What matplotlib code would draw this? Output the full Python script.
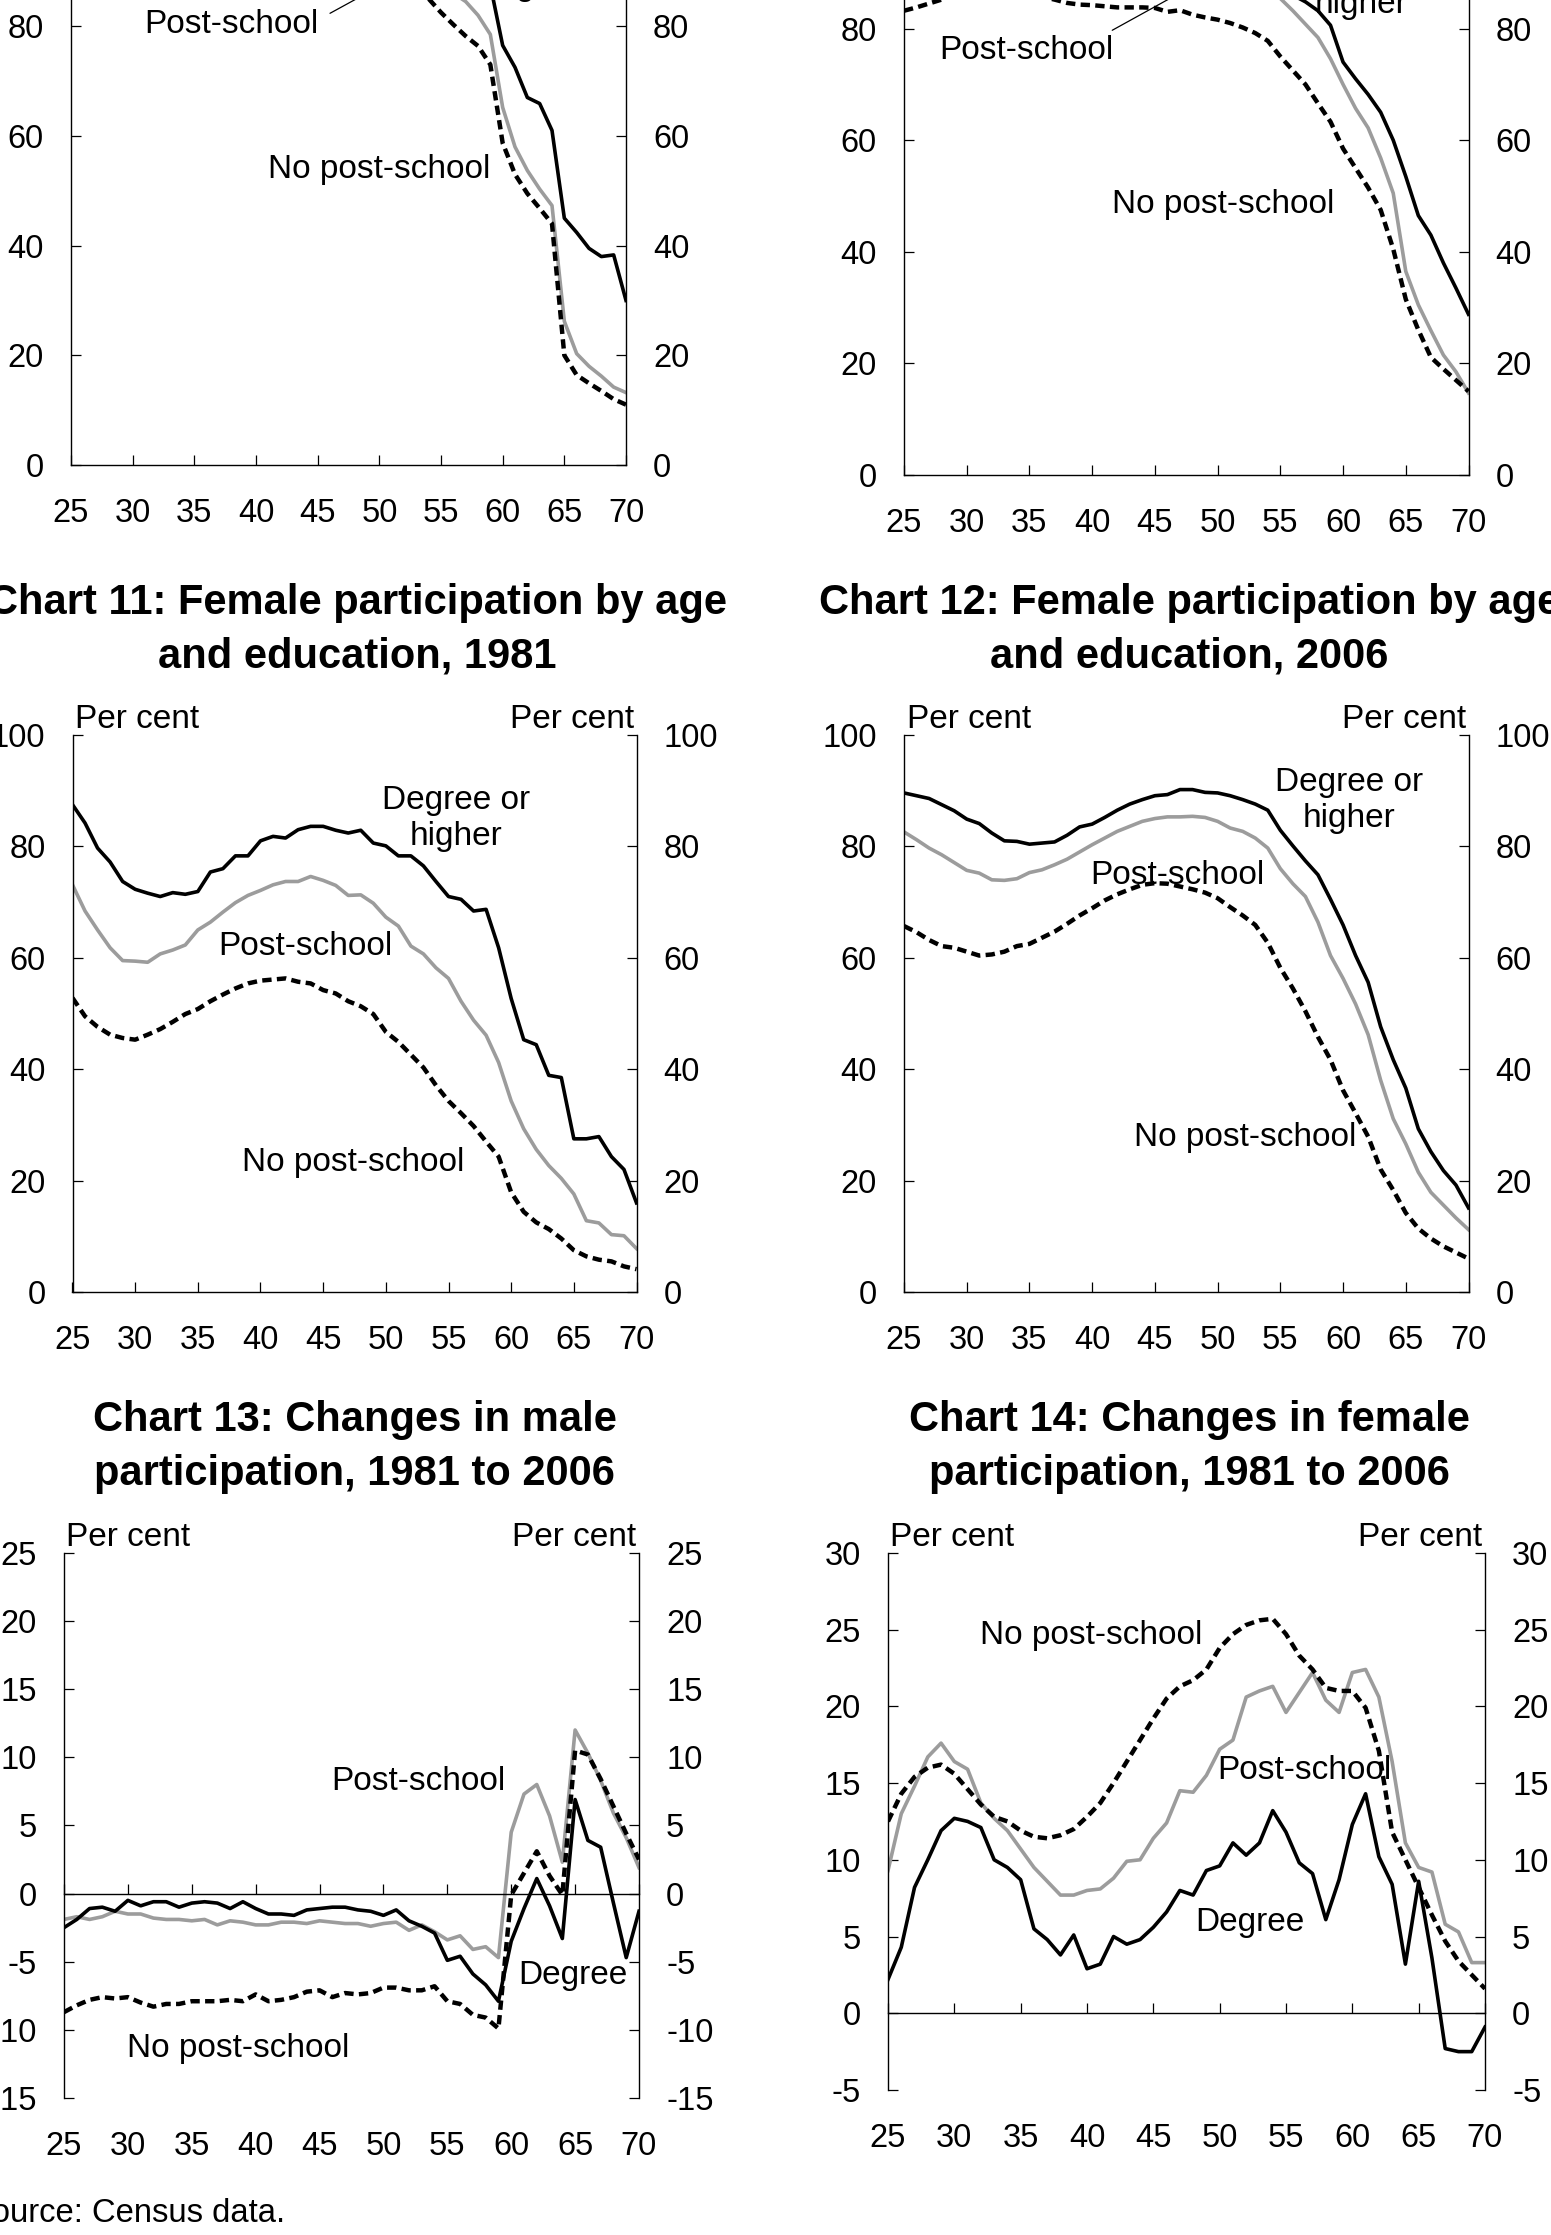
import matplotlib
matplotlib.use('Agg')
import matplotlib.pyplot as plt
from matplotlib.transforms import offset_copy

plt.rcParams['font.family'] = ['Liberation Sans', 'DejaVu Sans']
plt.rcParams['axes.unicode_minus'] = False

W, H = 1551, 2235
GREY = '#9c9c9c'

ages = list(range(25, 71))
xticks = list(range(25, 71, 5))

# Chart 9 - male 1981 (top of chart is cut off in the reference)
m81_degree = [96.0, 96.5, 97.0, 97.0, 97.0, 97.0, 97.0, 97.0, 97.0, 97.0, 97.0, 97.0,
              97.0, 96.5, 96.5, 96.5, 96.0, 96.0, 95.5, 95.5, 95.0, 94.5, 94.0, 93.5,
              93.0, 92.5, 92.0, 91.5, 91.0, 90.5, 90.0, 89.5, 89.0, 88.5,
              87.5, 76.5, 72.5, 67.0, 65.9, 61.0, 45.0, 42.4, 39.5, 38.0, 38.3, 30.0]
m81_post = [95.0, 95.5, 96.0, 96.0, 96.0, 96.0, 96.0, 96.0, 95.5, 95.5, 95.5, 95.0,
            95.0, 94.5, 94.5, 94.0, 93.5, 93.0, 92.5, 92.0, 91.5, 91.0, 90.5, 90.0,
            89.5, 89.0, 88.5, 88.0, 87.5, 87.0, 86.5,
            86.0, 84.5, 82.0, 78.5, 65.2, 58.0, 53.7, 50.3, 47.3, 26.2, 20.3, 18.0,
            16.2, 14.2, 13.2]
m81_nopost = [91.0, 92.0, 92.5, 93.0, 93.0, 93.0, 93.0, 92.5, 92.5, 92.0, 92.0, 91.5,
              91.0, 90.5, 90.0, 89.5, 89.0, 88.5, 88.0, 87.5, 87.0, 86.5, 86.5, 86.0,
              86.0, 85.5, 85.5, 85.5, 85.2,
              85.0, 82.5, 80.3, 78.2, 76.4, 73.0, 58.7, 53.0, 49.5, 46.8, 44.0, 20.0,
              16.4, 14.9, 13.5, 12.0, 11.0]

# Chart 10 - male 2006 (top cut off)
m06_degree = [93.0, 94.0, 94.5, 95.0, 95.0, 95.0, 95.0, 95.0, 95.0, 95.0, 95.0, 95.0,
              95.0, 95.0, 95.0, 95.0, 95.0, 95.0, 95.0, 94.5, 94.5, 94.5, 94.0, 94.0,
              94.0, 93.5, 93.0, 92.0, 91.0, 89.5, 88.0,
              86.0, 84.8, 83.2, 80.6, 74.0, 71.0, 68.2, 65.0, 60.0, 53.5, 46.5, 43.0,
              38.0, 33.5, 28.8]
m06_post = [90.0, 91.0, 91.5, 92.0, 92.0, 92.0, 92.0, 92.0, 92.0, 91.5, 91.5, 91.5,
            91.0, 91.0, 90.5, 90.5, 90.5, 90.0, 90.0, 90.0, 89.5, 89.5, 89.5, 89.0,
            89.0, 89.0, 88.5, 88.0, 87.5, 86.5,
            85.4, 83.2, 80.8, 78.4, 74.6, 70.0, 65.7, 62.2, 56.8, 50.5, 36.5, 30.5,
            25.9, 21.5, 18.5, 14.7]
m06_nopost = [83.2, 83.8, 84.5, 85.2, 85.6, 86.0, 86.2, 86.3, 86.3, 86.2, 86.0, 85.7,
              85.2, 84.6, 84.3, 84.2, 84.0, 83.8, 83.8, 83.8, 83.7, 83.0, 83.3, 82.5,
              82.0, 81.6, 81.0, 80.2, 79.2, 77.8, 75.0, 72.5, 70.0, 66.6, 63.3, 58.5,
              55.0, 51.5, 47.5, 40.5, 31.5, 26.0, 21.1, 19.0, 17.0, 15.0]

# Chart 11 - female 1981
f81_degree = [87.5, 84.2, 79.7, 77.2, 73.7, 72.3, 71.6, 71.0, 71.7, 71.4, 71.9, 75.4,
              76.0, 78.3, 78.3, 81.0, 81.8, 81.5, 83.0, 83.6, 83.6, 82.9, 82.4, 82.9,
              80.6, 80.1, 78.3, 78.3, 76.5, 73.7, 71.0, 70.5, 68.4, 68.7, 61.8, 52.7,
              45.3, 44.4, 38.9, 38.5, 27.5, 27.5, 27.9, 24.3, 22.0, 16.0]
f81_post = [73.1, 68.4, 65.0, 61.8, 59.5, 59.4, 59.2, 60.7, 61.4, 62.3, 65.0, 66.4,
            68.2, 69.9, 71.2, 72.1, 73.1, 73.7, 73.7, 74.6, 73.9, 73.0, 71.2, 71.3,
            69.8, 67.3, 65.7, 62.1, 60.7, 58.2, 56.3, 52.2, 48.8, 46.1, 41.2, 34.3,
            29.3, 25.6, 22.7, 20.4, 17.6, 12.8, 12.4, 10.3, 10.1, 7.8]
f81_nopost = [52.8, 49.5, 47.6, 46.2, 45.6, 45.3, 46.2, 47.2, 48.5, 49.9, 50.8, 52.2,
              53.4, 54.5, 55.4, 55.9, 56.1, 56.3, 55.7, 55.4, 54.2, 53.6, 52.2, 51.3,
              49.9, 46.7, 44.9, 42.6, 40.3, 37.1, 34.3, 32.1, 29.8, 27.0, 24.3, 17.9,
              14.4, 12.5, 11.3, 9.6, 7.5, 6.4, 5.8, 5.5, 4.6, 4.1]

# Chart 12 - female 2006
f06_degree = [89.6, 89.1, 88.6, 87.5, 86.4, 84.9, 84.1, 82.4, 81.0, 80.9, 80.4, 80.6,
              80.8, 82.0, 83.5, 84.0, 85.2, 86.5, 87.6, 88.4, 89.1, 89.3, 90.2, 90.2,
              89.7, 89.6, 89.1, 88.4, 87.6, 86.5, 82.9, 80.1, 77.4, 74.9, 70.5, 65.9,
              60.4, 55.6, 47.6, 41.7, 36.6, 29.3, 25.2, 21.8, 19.2, 15.1]
f06_post = [82.6, 81.2, 79.7, 78.5, 77.1, 75.7, 75.2, 74.0, 73.9, 74.2, 75.3, 75.8,
            76.7, 77.7, 79.0, 80.3, 81.5, 82.7, 83.6, 84.5, 85.0, 85.3, 85.3, 85.4,
            85.2, 84.5, 83.3, 82.7, 81.5, 79.7, 76.0, 73.3, 71.0, 66.4, 60.4, 56.3,
            51.7, 46.2, 38.0, 31.1, 26.6, 21.5, 17.9, 15.6, 13.3, 11.2]
f06_nopost = [65.7, 64.6, 63.2, 62.1, 61.8, 61.1, 60.4, 60.6, 61.1, 62.1, 62.5, 63.6,
              64.7, 66.1, 67.6, 68.9, 70.3, 71.4, 72.3, 73.1, 73.4, 73.3, 72.8, 72.3,
              71.7, 70.7, 69.1, 67.6, 65.9, 62.7, 58.2, 54.5, 50.4, 45.8, 41.7, 36.2,
              32.1, 27.9, 22.0, 18.3, 14.2, 11.4, 9.6, 8.2, 7.1, 6.0]

# Chart 13 - change in male participation
dm_degree = [-2.5, -1.9, -1.1, -1.0, -1.3, -0.5, -0.9, -0.6, -0.6, -1.0, -0.7, -0.6,
             -0.7, -1.1, -0.6, -1.1, -1.5, -1.5, -1.6, -1.2, -1.1, -1.0, -1.0, -1.2,
             -1.3, -1.6, -1.2, -2.0, -2.4, -2.9, -4.9, -4.6, -5.9, -6.7, -7.9, -3.5,
             -1.1, 1.1, -0.9, -3.3, 6.9, 3.9, 3.4, -0.7, -4.7, -1.3]
dm_post = [-1.9, -1.7, -1.9, -1.7, -1.3, -1.5, -1.5, -1.8, -1.9, -1.9, -2.0, -1.9,
           -2.3, -2.0, -2.1, -2.3, -2.3, -2.1, -2.1, -2.2, -2.0, -2.1, -2.2, -2.2,
           -2.4, -2.2, -2.1, -2.7, -2.3, -2.8, -3.4, -3.1, -4.1, -3.9, -4.7, 4.5,
           7.3, 8.0, 5.7, 2.3, 12.0, 10.3, 8.3, 5.9, 4.1, 1.9]
dm_nopost = [-8.7, -8.2, -7.8, -7.6, -7.7, -7.6, -8.0, -8.3, -8.1, -8.1, -7.9, -7.9,
             -7.9, -7.8, -7.9, -7.4, -7.9, -7.8, -7.6, -7.2, -7.1, -7.6, -7.3, -7.4,
             -7.3, -6.9, -6.9, -7.1, -7.1, -6.8, -7.9, -8.1, -8.9, -9.1, -9.9, -0.1,
             1.5, 3.1, 1.3, -0.1, 10.5, 10.2, 8.4, 6.4, 4.4, 2.5]

# Chart 14 - change in female participation
df_degree = [2.2, 4.3, 8.2, 10.0, 11.9, 12.7, 12.5, 12.1, 10.0, 9.5, 8.7, 5.5, 4.8,
             3.8, 5.1, 2.9, 3.2, 5.0, 4.5, 4.8, 5.6, 6.6, 8.0, 7.7, 9.3, 9.6, 11.1,
             10.3, 11.1, 13.2, 11.8, 9.8, 9.1, 6.1, 8.7, 12.3, 14.3, 10.2, 8.4, 3.2,
             8.6, 3.6, -2.3, -2.5, -2.5, -0.9]
df_post = [9.3, 13.0, 14.8, 16.7, 17.6, 16.4, 15.9, 13.7, 12.7, 11.9, 10.7, 9.5, 8.6,
           7.7, 7.7, 8.0, 8.1, 8.8, 9.9, 10.0, 11.4, 12.4, 14.5, 14.4, 15.5, 17.2,
           17.8, 20.6, 21.0, 21.3, 19.6, 20.9, 22.2, 20.4, 19.6, 22.2, 22.4, 20.6,
           16.4, 11.1, 9.5, 9.2, 5.8, 5.3, 3.3, 3.3]
df_nopost = [12.5, 14.3, 15.4, 16.0, 16.2, 15.6, 14.6, 13.6, 12.8, 12.5, 11.9, 11.5,
             11.4, 11.6, 12.0, 12.8, 13.7, 15.0, 16.4, 17.8, 19.2, 20.5, 21.3, 21.7,
             22.4, 23.8, 24.7, 25.3, 25.6, 25.7, 24.7, 23.3, 22.4, 21.2, 21.0, 21.0,
             19.9, 17.1, 11.8, 10.0, 8.2, 6.4, 4.7, 3.4, 2.5, 1.6]

fig = plt.figure(figsize=(W / 100, H / 100), dpi=100)


def make_axes(x0, x1, ytop, ybot):
    # box given in pixels of the final image, y measured from the top
    return fig.add_axes([x0 / W, 1 - ybot / H, (x1 - x0) / W, (ybot - ytop) / H])


def style(ax, ylim, yticks, zero_axis=False):
    ax.set_xlim(25, 70)
    ax.set_ylim(*ylim)
    ax.spines['top'].set_visible(False)
    for s in ax.spines.values():
        s.set_linewidth(1.0)
    ax.set_yticks(yticks)
    ax.set_yticklabels([str(v) for v in yticks])
    ax.tick_params(axis='y', direction='in', left=True, right=True,
                   labelleft=True, labelright=True, length=7, width=0.9,
                   pad=19.5, labelsize=23.5)
    ax.set_xticks(xticks)
    if zero_axis:
        ax.spines['bottom'].set_position(('data', 0))
        ax.tick_params(axis='x', direction='in', length=7, width=0.9,
                       labelbottom=False)
        sec = ax.secondary_xaxis('bottom')
        sec.set_xticks(xticks)
        sec.set_xticklabels([str(v) for v in xticks])
        sec.spines['bottom'].set_visible(False)
        sec.tick_params(axis='x', length=0, pad=24, labelsize=23.5)
    else:
        ax.set_xticklabels([str(v) for v in xticks])
        ax.tick_params(axis='x', direction='in', length=7, width=0.9,
                       pad=24, labelsize=23.5)


def draw_lines(ax, degree, post, nopost):
    ax.plot(ages, post, color=GREY, lw=2.6)
    ax.plot(ages, nopost, color='black', lw=3.2, ls=(0, (2.1, 1.2)),
            dash_capstyle='butt')
    ax.plot(ages, degree, color='black', lw=2.6)


def per_cent(ax):
    ax.text(0, 1, 'Per cent', fontsize=24, ha='left', va='baseline',
            transform=offset_copy(ax.transAxes, fig, x=2.5, y=7, units='dots'))
    ax.text(1, 1, 'Per cent', fontsize=24, ha='right', va='baseline',
            transform=offset_copy(ax.transAxes, fig, x=-2.5, y=7, units='dots'))


def title(ax, text, dy, ls):
    ax.text(0.5, 1, text, fontsize=30, fontweight='bold', ha='center', va='top',
            linespacing=ls, multialignment='center',
            transform=offset_copy(ax.transAxes, fig, x=3, y=dy, units='dots'))


# ---- Chart 9 (cropped at the top)
ax9 = make_axes(71, 626, 465 - 548.5, 465)
style(ax9, (0, 100), [0, 20, 40, 60, 80, 100])
draw_lines(ax9, m81_degree, m81_post, m81_nopost)
ax9.text(62.8, 84.4, 'Degree or\nhigher', fontsize=24, ha='center', va='bottom',
         multialignment='center')
ax9.text(38.0, 80.4, 'Post-school', fontsize=24, ha='center', va='center')
ax9.annotate('', xy=(51.0, 88.5), xytext=(46.0, 82.35),
             arrowprops=dict(arrowstyle='-', lw=0.9, color='black',
                             shrinkA=0, shrinkB=0))
ax9.text(49.95, 53.8, 'No post-school', fontsize=24, ha='center', va='center')

# ---- Chart 10 (cropped at the top)
ax10 = make_axes(904, 1468.5, 475 - 558, 475)
style(ax10, (0, 100), [0, 20, 40, 60, 80, 100])
draw_lines(ax10, m06_degree, m06_post, m06_nopost)
ax10.text(61.4, 81.5, 'Degree or\nhigher', fontsize=24, ha='center', va='bottom',
          multialignment='center')
ax10.text(34.75, 76.0, 'Post-school', fontsize=24, ha='center', va='center')
ax10.annotate('', xy=(49.5, 89.5), xytext=(41.6, 79.7),
              arrowprops=dict(arrowstyle='-', lw=0.9, color='black',
                              shrinkA=0, shrinkB=0))
ax10.text(50.45, 48.5, 'No post-school', fontsize=24, ha='center', va='center')

# ---- Chart 11
ax11 = make_axes(72.5, 636.5, 735, 1292)
style(ax11, (0, 100), [0, 20, 40, 60, 80, 100])
draw_lines(ax11, f81_degree, f81_post, f81_nopost)
per_cent(ax11)
title(ax11, 'Chart 11: Female participation by age\nand education, 1981', 152, 1.42)
ax11.text(55.6, 85.0, 'Degree or\nhigher', fontsize=24, ha='center', va='center',
          multialignment='center')
ax11.text(43.6, 62.1, 'Post-school', fontsize=24, ha='center', va='center')
ax11.text(47.4, 23.3, 'No post-school', fontsize=24, ha='center', va='center')

# ---- Chart 12
ax12 = make_axes(904, 1468.5, 735, 1292)
style(ax12, (0, 100), [0, 20, 40, 60, 80, 100])
draw_lines(ax12, f06_degree, f06_post, f06_nopost)
per_cent(ax12)
title(ax12, 'Chart 12: Female participation by age\nand education, 2006', 152, 1.42)
ax12.text(60.5, 88.2, 'Degree or\nhigher', fontsize=24, ha='center', va='center',
          multialignment='center')
ax12.text(46.8, 74.8, 'Post-school', fontsize=24, ha='center', va='center')
ax12.text(52.2, 27.7, 'No post-school', fontsize=24, ha='center', va='center')

# ---- Chart 13
ax13 = make_axes(64, 639, 1552.8, 2098)
style(ax13, (-15, 25), [-15, -10, -5, 0, 5, 10, 15, 20, 25], zero_axis=True)
draw_lines(ax13, dm_degree, dm_post, dm_nopost)
per_cent(ax13)
title(ax13, 'Chart 13: Changes in male\nparticipation, 1981 to 2006', 153, 1.47)
ax13.text(52.7, 8.2, 'Post-school', fontsize=24, ha='center', va='center')
ax13.text(64.8, -6.0, 'Degree', fontsize=24, ha='center', va='center')
ax13.text(38.6, -11.4, 'No post-school', fontsize=24, ha='center', va='center')

# ---- Chart 14
ax14 = make_axes(888, 1485, 1552.8, 2090)
style(ax14, (-5, 30), [-5, 0, 5, 10, 15, 20, 25, 30], zero_axis=True)
draw_lines(ax14, df_degree, df_post, df_nopost)
per_cent(ax14)
title(ax14, 'Chart 14: Changes in female\nparticipation, 1981 to 2006', 153, 1.47)
ax14.text(40.35, 24.6, 'No post-school', fontsize=24, ha='center', va='center')
ax14.text(56.4, 15.8, 'Post-school', fontsize=24, ha='center', va='center')
ax14.text(52.3, 5.9, 'Degree', fontsize=24, ha='center', va='center')

fig.text(285 / W, 1 - 2221.7 / H, 'Source: Census data.', fontsize=23.6,
         ha='right', va='baseline')

fig.savefig('out.png', dpi=100)
